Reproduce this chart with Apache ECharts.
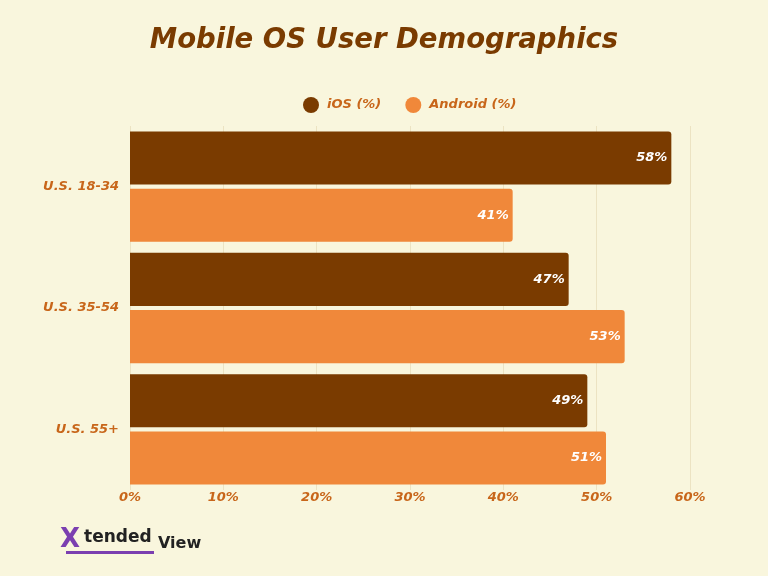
<!DOCTYPE html>
<html>
<head>
<meta charset="utf-8">
<script src="https://cdn.jsdelivr.net/npm/echarts@6/dist/echarts.min.js"></script>
<style>
  html, body { margin: 0; padding: 0; background: #f9f6dd; }
  #chart { width: 768px; height: 576px; }
</style>
</head>
<body>
<div id="chart"></div>
<script>
var categories = ["U.S. 18-34", "U.S. 35-54", "U.S. 55+"];
var iosValues = [58, 47, 49];
var androidValues = [41, 53, 51];

var chart = echarts.init(document.getElementById("chart"));

// shared text look: heavy italic sans
var axisText = {
  color: "#c8661a",
  fontWeight: "bold",
  fontStyle: "italic",
  fontFamily: "DejaVu Sans",
  fontSize: 13
};

var barLabel = {
  show: true,
  position: "insideRight",
  formatter: "{c}%",
  color: "#ffffff",
  fontWeight: "bold",
  fontStyle: "italic",
  fontFamily: "DejaVu Sans",
  fontSize: 13,
  distance: 4
};

chart.setOption({
  backgroundColor: "#f9f6dd",
  animation: false,
  title: {
    text: "Mobile OS User Demographics",
    left: "center",
    top: 22,
    textStyle: {
      color: "#7a3b00",
      fontSize: 27.5,
      fontWeight: "bold",
      fontStyle: "italic",
      fontFamily: "DejaVu Sans"
    }
  },
  legend: {
    top: 92,
    left: 298,
    icon: "circle",
    itemWidth: 16,
    itemHeight: 16,
    itemGap: 24,
    textStyle: Object.assign({ padding: [0, 0, 0, 3] }, axisText),
    data: ["iOS (%)", "Android (%)"]
  },
  grid: {
    left: 130,
    right: 78,
    top: 126,
    bottom: 86,
    containLabel: false
  },
  xAxis: {
    type: "value",
    min: 0,
    max: 60,
    interval: 10,
    axisLine: { show: false },
    axisTick: { show: false },
    splitLine: { lineStyle: { color: "#ece3c2", width: 1 } },
    axisLabel: Object.assign({ formatter: "{value}%", margin: 1 }, axisText)
  },
  yAxis: {
    type: "category",
    data: categories,
    inverse: true,
    axisLine: { show: false },
    axisTick: { show: false },
    axisLabel: Object.assign({ margin: 11 }, axisText)
  },
  series: [
    {
      name: "iOS (%)",
      type: "bar",
      data: iosValues,
      barGap: "8%",
      barCategoryGap: "9%",
      itemStyle: { color: "#7a3b00", borderRadius: [0, 3, 3, 0] },
      label: barLabel
    },
    {
      name: "Android (%)",
      type: "bar",
      data: androidValues,
      itemStyle: { color: "#f0883a", borderRadius: [0, 3, 3, 0] },
      label: barLabel
    }
  ],
  graphic: [
    {
      type: "text",
      left: 60,
      top: 527,
      style: {
        text: "X",
        fill: "#7b3fb0",
        font: "bold 26px 'DejaVu Sans'"
      }
    },
    {
      type: "text",
      left: 84,
      top: 529,
      style: {
        text: "tended",
        fill: "#222222",
        font: "bold 17px 'DejaVu Sans'"
      }
    },
    {
      type: "text",
      left: 158,
      top: 536,
      style: {
        text: "View",
        fill: "#222222",
        font: "bold 16px 'DejaVu Sans'"
      }
    },
    {
      type: "rect",
      shape: { x: 66, y: 551, width: 88, height: 3 },
      style: { fill: "#7b3fb0" }
    }
  ]
});
</script>
</body>
</html>
